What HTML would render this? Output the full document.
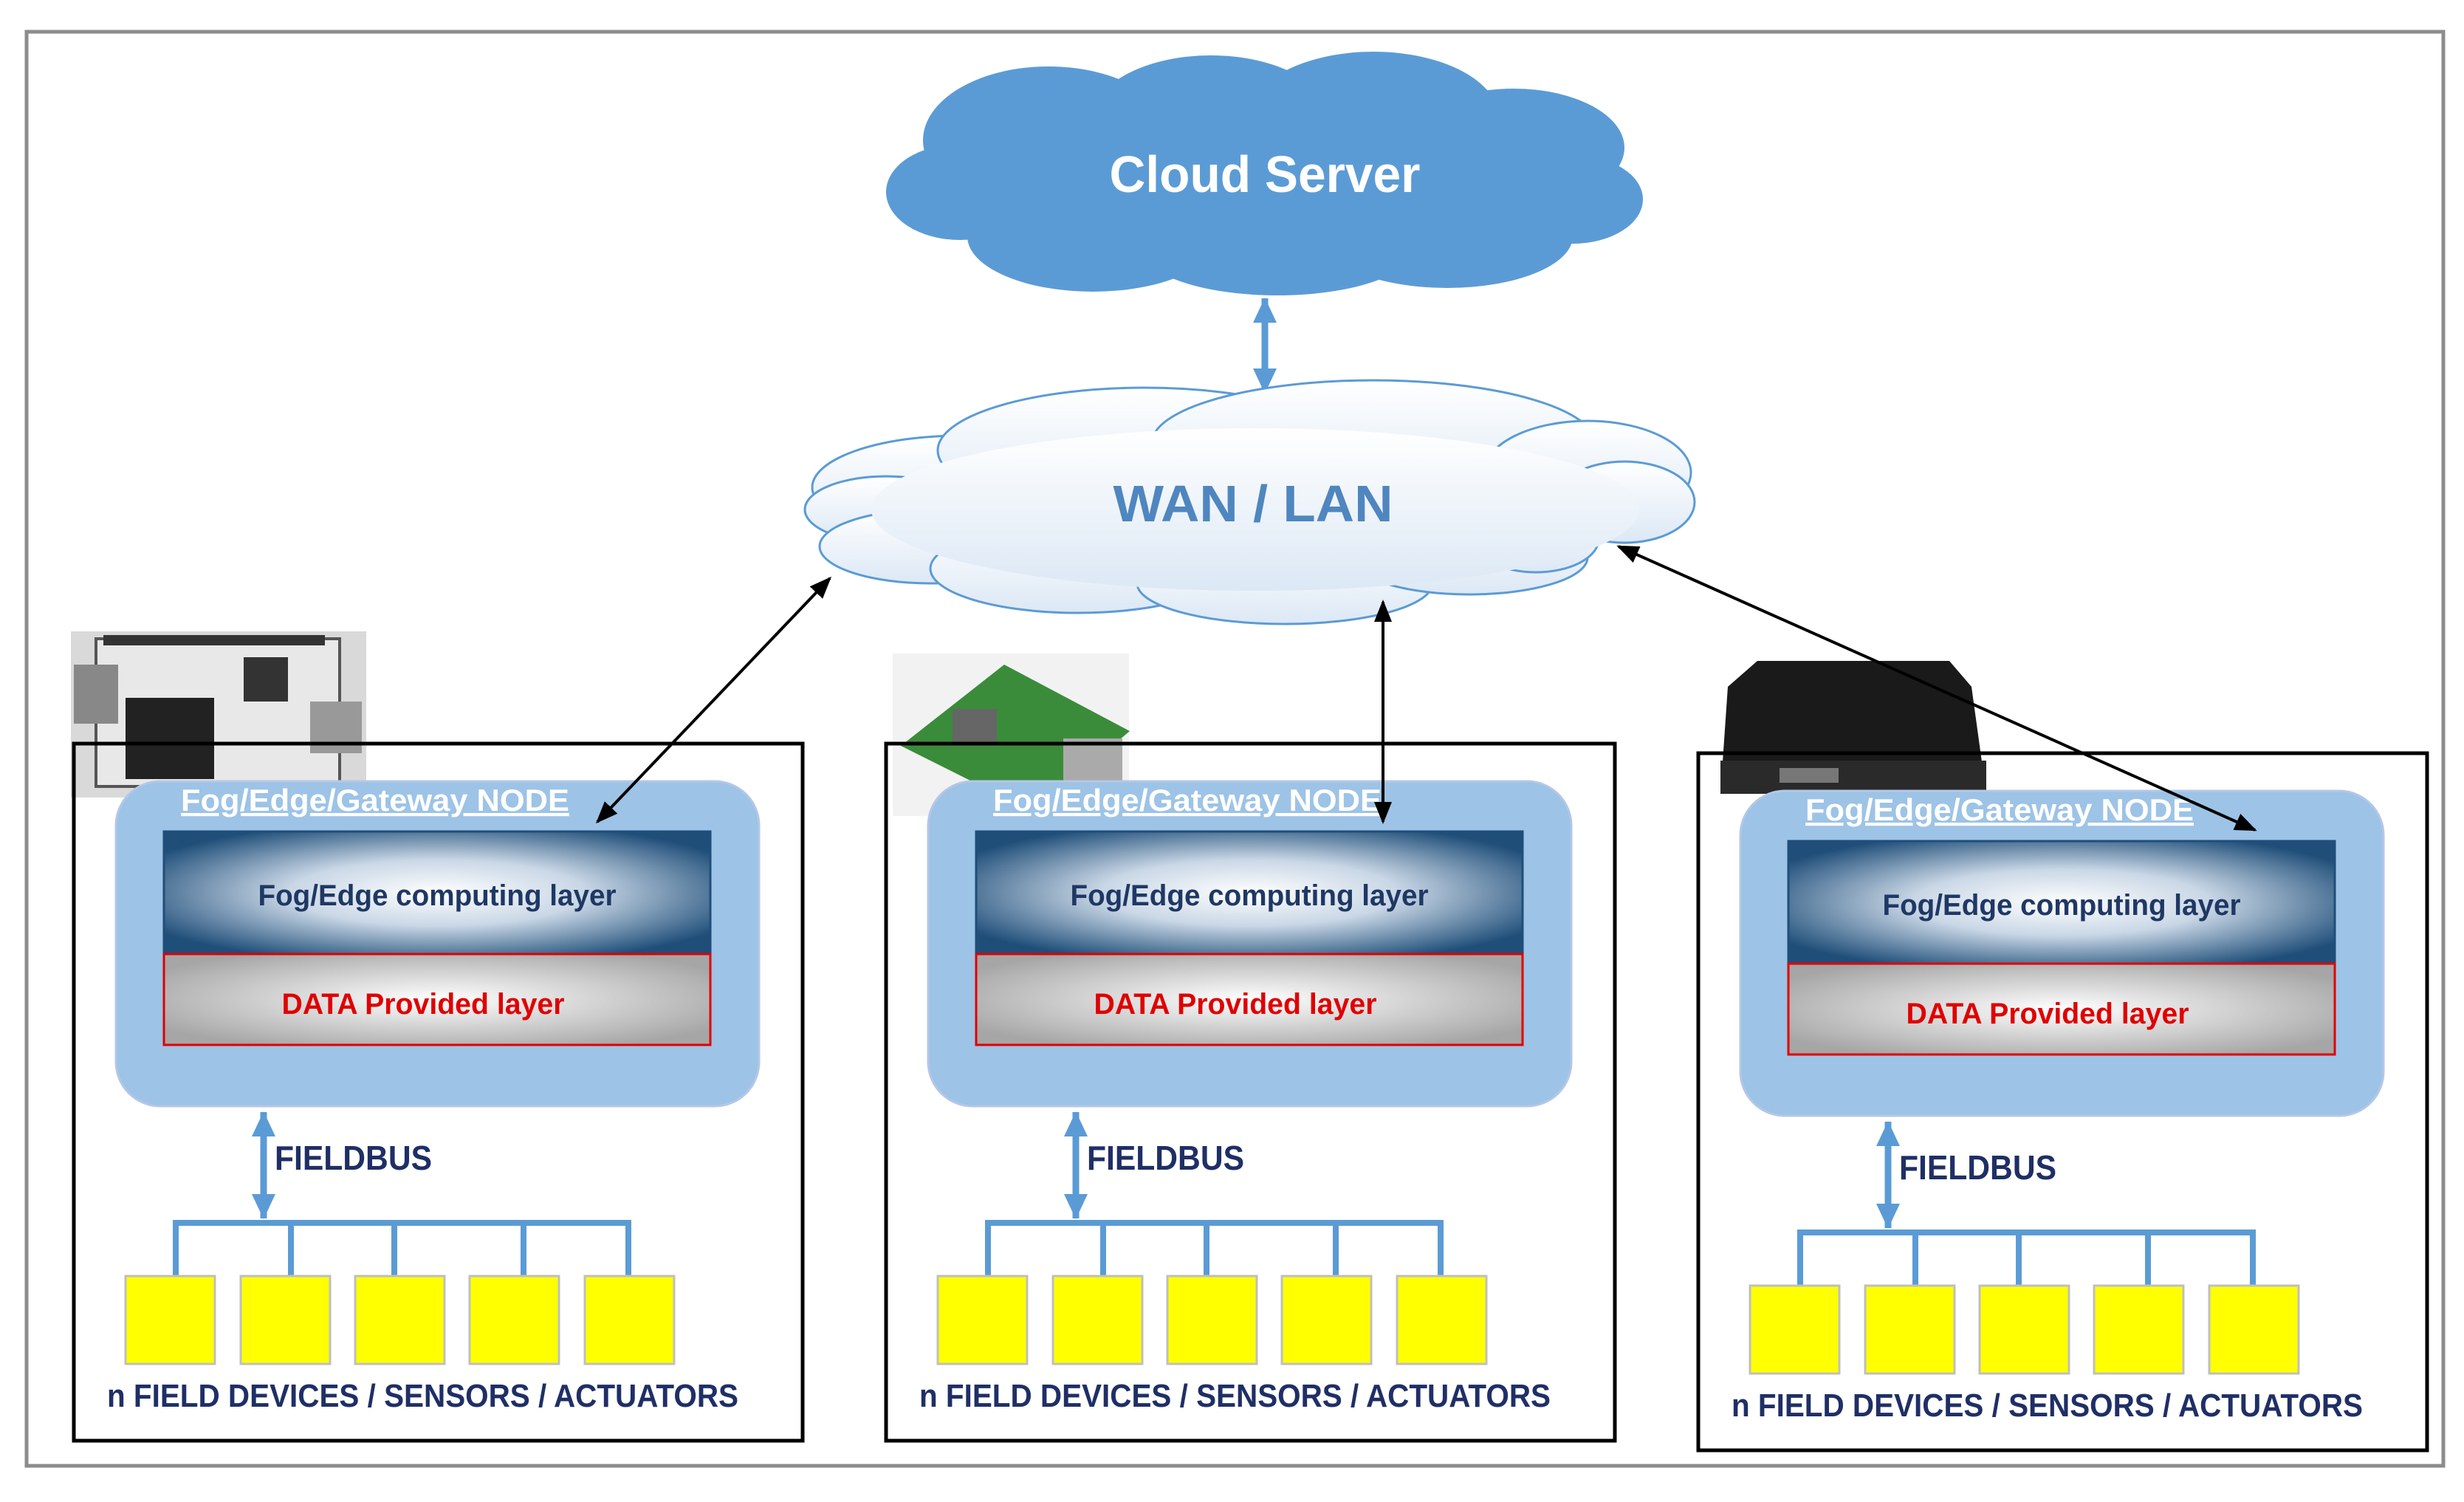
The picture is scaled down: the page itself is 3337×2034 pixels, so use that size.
<!DOCTYPE html>
<html><head><meta charset="utf-8"><style>
body{margin:0;background:#fff;}
svg text{font-family:"Liberation Sans","DejaVu Sans",sans-serif;}
</style></head><body>
<svg width="3337" height="2029" viewBox="0 0 3337 2029" xmlns="http://www.w3.org/2000/svg">
<defs>
<radialGradient id="fog" cx="50%" cy="50%" r="60%">
<stop offset="0" stop-color="#ffffff"/><stop offset="0.45" stop-color="#c9d7e6"/><stop offset="1" stop-color="#1f4e79"/>
</radialGradient>
<radialGradient id="data" cx="50%" cy="50%" r="60%">
<stop offset="0" stop-color="#ffffff"/><stop offset="1" stop-color="#a6a6a6"/>
</radialGradient>
<linearGradient id="wan" x1="0" y1="0" x2="0" y2="1">
<stop offset="0" stop-color="#ffffff"/><stop offset="1" stop-color="#dce8f5"/>
</linearGradient>
<marker id="ahs" markerWidth="30" markerHeight="30" refX="27" refY="15" orient="auto-start-reverse" markerUnits="userSpaceOnUse" viewBox="0 0 30 30">
<path d="M0,3 L30,15 L0,27 z" fill="#000"/></marker>
<marker id="bh" markerWidth="36" markerHeight="36" refX="33" refY="18" orient="auto-start-reverse" markerUnits="userSpaceOnUse" viewBox="0 0 36 36">
<path d="M0,2 L34,18 L0,34 z" fill="#5b9bd5"/></marker>
</defs>
<rect x="36" y="43" width="3273" height="1942" fill="#fff" stroke="#8c8c8c" stroke-width="5"/>

<!-- Cloud server -->
<g fill="#5b9bd5">
<ellipse cx="1713" cy="240" rx="430" ry="120"/>
<ellipse cx="1420" cy="190" rx="170" ry="100"/>
<ellipse cx="1640" cy="160" rx="160" ry="85"/>
<ellipse cx="1860" cy="160" rx="170" ry="90"/>
<ellipse cx="2050" cy="200" rx="150" ry="80"/>
<ellipse cx="2130" cy="270" rx="95" ry="60"/>
<ellipse cx="1300" cy="260" rx="100" ry="65"/>
<ellipse cx="1480" cy="320" rx="170" ry="75"/>
<ellipse cx="1730" cy="340" rx="180" ry="60"/>
<ellipse cx="1960" cy="320" rx="170" ry="70"/>
</g>
<text x="1713" y="260" text-anchor="middle" font-size="70" font-weight="bold" fill="#fff" textLength="421" lengthAdjust="spacingAndGlyphs">Cloud Server</text>
<line x1="1713" y1="404" x2="1713" y2="532" stroke="#5b9bd5" stroke-width="9" marker-start="url(#bh)" marker-end="url(#bh)"/>

<!-- WAN cloud -->
<g fill="url(#wan)" stroke="#5b9bd5" stroke-width="3">
<ellipse cx="1300" cy="660" rx="200" ry="70"/>
<ellipse cx="1550" cy="610" rx="280" ry="85"/>
<ellipse cx="1860" cy="600" rx="300" ry="85"/>
<ellipse cx="2150" cy="640" rx="140" ry="70"/>
<ellipse cx="2200" cy="680" rx="95" ry="55"/>
<ellipse cx="1200" cy="690" rx="110" ry="45"/>
<ellipse cx="1260" cy="740" rx="150" ry="50"/>
<ellipse cx="1460" cy="770" rx="200" ry="60"/>
<ellipse cx="1740" cy="790" rx="200" ry="55"/>
<ellipse cx="1990" cy="755" rx="160" ry="50"/>
<ellipse cx="2080" cy="730" rx="85" ry="45"/>
</g>
<g fill="url(#wan)">
<ellipse cx="1700" cy="690" rx="520" ry="110"/>
</g>
<text x="1697" y="706" text-anchor="middle" font-size="70" font-weight="bold" fill="#4f86bf" textLength="379" lengthAdjust="spacingAndGlyphs">WAN / LAN</text>

<!-- device images -->
<g>
<rect x="96" y="855" width="400" height="225" fill="#d9d9d9"/>
<rect x="130" y="865" width="330" height="200" fill="#e8e8e8" stroke="#555" stroke-width="4"/>
<rect x="170" y="945" width="120" height="110" fill="#222"/>
<rect x="330" y="890" width="60" height="60" fill="#333"/>
<rect x="420" y="950" width="70" height="70" fill="#999"/>
<rect x="100" y="900" width="60" height="80" fill="#888"/>
<rect x="140" y="860" width="300" height="14" fill="#333"/>
</g>
<g>
<rect x="1209" y="885" width="320" height="220" fill="#f2f2f2"/>
<path d="M1220,1010 L1360,900 L1530,990 L1400,1100 z" fill="#3a8c3a"/>
<rect x="1290" y="960" width="60" height="50" fill="#666"/>
<rect x="1440" y="1000" width="80" height="60" fill="#aaa"/>
</g>
<g>
<path d="M2340,930 L2380,895 L2640,895 L2670,930 L2690,1075 L2330,1075 z" fill="#1a1a1a"/>
<rect x="2330" y="1030" width="360" height="45" fill="#2a2a2a"/>
<rect x="2410" y="1040" width="80" height="20" fill="#777"/>
</g>

<!-- nodes -->
<g id="n1">
<rect x="100" y="1007" width="987" height="944" fill="none" stroke="#000" stroke-width="5"/>
<rect x="157" y="1058" width="871" height="440" rx="60" fill="#9dc3e6" stroke="#b4c7e7" stroke-width="3"/>
<text x="245" y="1098" font-size="42" font-weight="bold" fill="#fff" text-decoration="underline" textLength="526" lengthAdjust="spacingAndGlyphs">Fog/Edge/Gateway NODE</text>
<rect x="222" y="1126" width="740" height="166" fill="url(#fog)" stroke="#1f4e79" stroke-width="3"/>
<text x="592" y="1226" text-anchor="middle" font-size="40" fill="#1f3864" font-weight="bold" textLength="485" lengthAdjust="spacingAndGlyphs">Fog/Edge computing layer</text>
<rect x="222" y="1292" width="740" height="123" fill="url(#data)" stroke="#e00000" stroke-width="3"/>
<text x="573" y="1373" text-anchor="middle" font-size="40" fill="#e00000" font-weight="bold" textLength="383" lengthAdjust="spacingAndGlyphs">DATA Provided layer</text>
<line x1="357" y1="1506" x2="357" y2="1650" stroke="#5b9bd5" stroke-width="9" marker-start="url(#bh)" marker-end="url(#bh)"/>
<text x="372" y="1584" font-size="46" font-weight="bold" fill="#1f2f66" textLength="213" lengthAdjust="spacingAndGlyphs">FIELDBUS</text>
<path d="M238,1728 V1656 H851 V1728 M394,1656 V1728 M534,1656 V1728 M709,1656 V1728" fill="none" stroke="#5b9bd5" stroke-width="8"/>
<g fill="#ffff00" stroke="#bfbfbf" stroke-width="3">
<rect x="170" y="1728" width="121" height="119"/><rect x="326" y="1728" width="121" height="119"/>
<rect x="481" y="1728" width="121" height="119"/><rect x="636" y="1728" width="121" height="119"/>
<rect x="792" y="1728" width="121" height="119"/>
</g>
<text x="145" y="1905" font-size="44" font-weight="bold" fill="#1f2f66" textLength="855" lengthAdjust="spacingAndGlyphs">n FIELD DEVICES / SENSORS / ACTUATORS</text>
</g>
<use href="#n1" transform="translate(1100,0)"/>
<use href="#n1" transform="translate(2200,13)"/>

<!-- black arrows -->
<line x1="809" y1="1113" x2="1124" y2="783" stroke="#000" stroke-width="4" marker-start="url(#ahs)" marker-end="url(#ahs)"/>
<line x1="1873" y1="1113" x2="1873" y2="815" stroke="#000" stroke-width="4" marker-start="url(#ahs)" marker-end="url(#ahs)"/>
<line x1="2192" y1="740" x2="3054" y2="1124" stroke="#000" stroke-width="4" marker-start="url(#ahs)" marker-end="url(#ahs)"/>
</svg>
</body></html>
